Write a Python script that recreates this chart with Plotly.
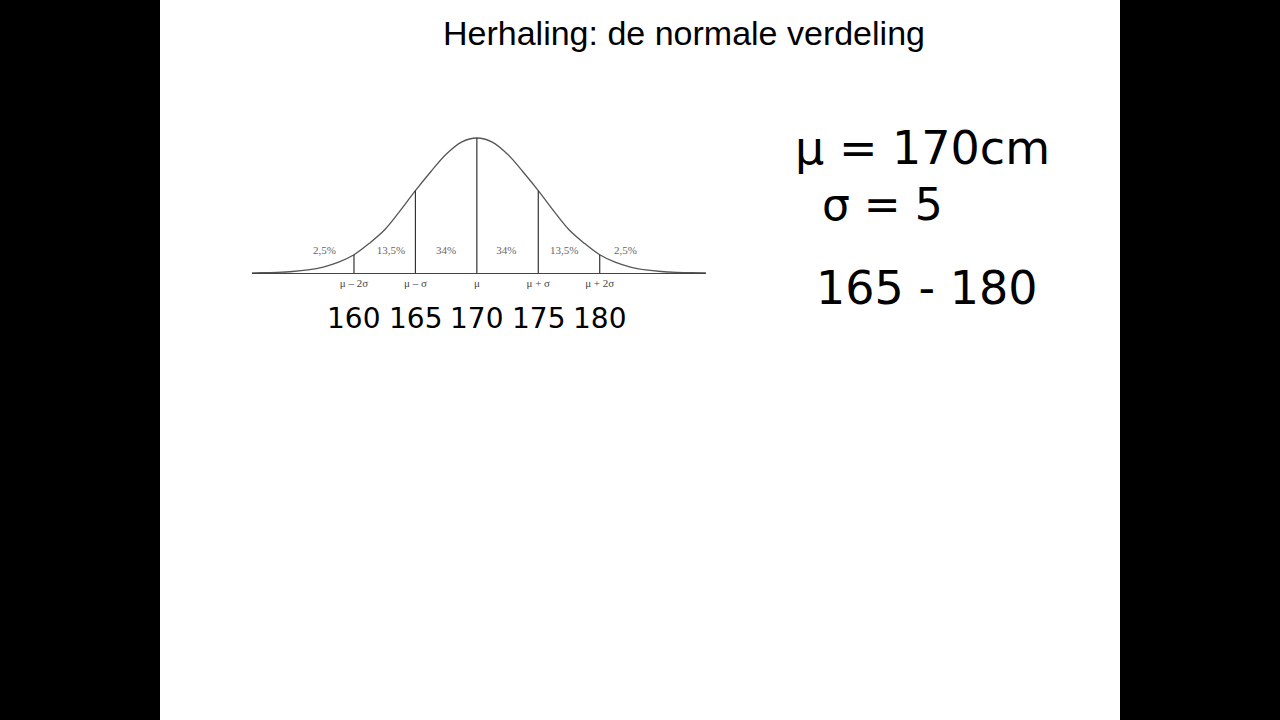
import plotly.graph_objects as go

# ---- data ----
mu = 170
sigma = 5
# standardized offsets (in sigma) and curve heights (peak = 1)
z_pts = [-3.75, -3.5, -3.25, -3.0, -2.75, -2.5, -2.25, -2.0, -1.75, -1.5, -1.25, -1.0,
         -0.75, -0.5, -0.25, 0.0, 0.25, 0.5, 0.75, 1.0, 1.25, 1.5, 1.75, 2.0, 2.25,
         2.5, 2.75, 3.0, 3.25, 3.5, 3.75]
heights = [0.001, 0.002, 0.005, 0.011, 0.023, 0.044, 0.08, 0.135, 0.22, 0.32, 0.46, 0.61,
           0.75, 0.88, 0.97, 1.00, 0.97, 0.88, 0.75, 0.61, 0.46, 0.32, 0.22, 0.135, 0.08,
           0.044, 0.023, 0.011, 0.005, 0.002, 0.001]

marker_vals = [160, 165, 170, 175, 180]
marker_heights = [0.135, 0.61, 1.00, 0.61, 0.135]
marker_labels = ["μ – 2σ", "μ – σ", "μ", "μ + σ", "μ + 2σ"]
hand_labels = ["160", "165", "170", "175", "180"]

pct_x = [157.6, 163.0, 167.5, 172.4, 177.1, 182.1]
pct_labels = ["2,5%", "13,5%", "34%", "34%", "13,5%", "2,5%"]
pct_y = 0.163

x_curve = [mu + sigma * z for z in z_pts]

fig = go.Figure()

fig.add_trace(go.Scatter(x=x_curve, y=heights, mode="lines",
                         line=dict(color="#555555", width=1.3, shape="spline"),
                         hoverinfo="skip", showlegend=False))

vx, vy = [], []
for xv, hv in zip(marker_vals, marker_heights):
    vx += [xv, xv, None]
    vy += [0, hv, None]
fig.add_trace(go.Scatter(x=vx, y=vy, mode="lines",
                         line=dict(color="#333333", width=1.2),
                         hoverinfo="skip", showlegend=False))

fig.add_trace(go.Scatter(x=pct_x, y=[pct_y] * len(pct_x), mode="text",
                         text=pct_labels,
                         textfont=dict(family="Liberation Serif", size=11, color="#666666"),
                         hoverinfo="skip", showlegend=False))

# white slide
fig.add_shape(type="rect", xref="paper", yref="paper", x0=160/1280, x1=1120/1280,
              y0=0, y1=1, fillcolor="white", line=dict(width=0), layer="below")

annotations = [
    dict(text="Herhaling: de normale verdeling", xref="paper", yref="paper",
         x=684/1280, y=1 - 33/720, showarrow=False, xanchor="center", yanchor="middle",
         font=dict(family="Liberation Sans", size=34, color="black")),
]
for xv, lab in zip(marker_vals, hand_labels):
    annotations.append(dict(text=lab, x=xv, xref="x", y=1 - 318/720, yref="paper",
                            showarrow=False, xanchor="center", yanchor="middle",
                            font=dict(family="DejaVu Sans", size=28, color="black")))
annotations += [
    dict(text="μ = 170cm", xref="paper", yref="paper", x=922/1280, y=1 - 148/720,
         showarrow=False, xanchor="center", yanchor="middle",
         font=dict(family="DejaVu Sans", size=46, color="black")),
    dict(text="σ = 5", xref="paper", yref="paper", x=882/1280, y=1 - 204/720,
         showarrow=False, xanchor="center", yanchor="middle",
         font=dict(family="DejaVu Sans", size=44, color="black")),
    dict(text="165 - 180", xref="paper", yref="paper", x=926/1280, y=1 - 288/720,
         showarrow=False, xanchor="center", yanchor="middle",
         font=dict(family="DejaVu Sans", size=46, color="black")),
]

fig.update_layout(
    width=1280, height=720,
    margin=dict(l=0, r=0, t=0, b=0),
    paper_bgcolor="black", plot_bgcolor="rgba(0,0,0,0)",
    xaxis=dict(domain=[252/1280, 706/1280], range=[151.7, 188.65],
               showgrid=False, zeroline=False, showline=True, linecolor="#444444",
               linewidth=1.3, ticks="", tickvals=marker_vals, ticktext=marker_labels,
               tickfont=dict(family="Liberation Serif", size=11, color="#444444"),
               fixedrange=True),
    yaxis=dict(domain=[(720 - 273)/720, (720 - 111)/720], range=[0, 1.2],
               showgrid=False, zeroline=False, showline=False, showticklabels=False,
               fixedrange=True),
    annotations=annotations,
    showlegend=False,
)

fig.write_html("out.html", config={"displayModeBar": False},
               post_script="document.body.style.margin='0';document.body.style.overflow='hidden';")
